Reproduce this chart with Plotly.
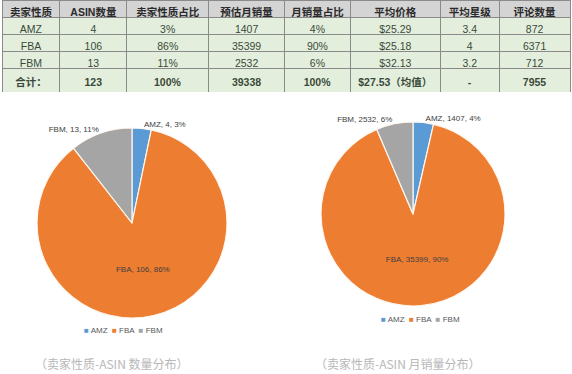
import plotly.graph_objects as go

# ---- data ----
categories = ["AMZ", "FBA", "FBM"]
asin_counts = [4, 106, 13]
asin_share = ["3%", "86%", "11%"]
monthly_sales = [1407, 35399, 2532]
sales_share = ["4%", "90%", "6%"]
avg_price = ["$25.29", "$25.18", "$32.13"]
avg_rating = ["3.4", "4", "3.2"]
reviews = [872, 6371, 712]

total_label = "合计："
total_asin = 123
total_asin_share = "100%"
total_sales = 39338
total_sales_share = "100%"
total_price = "$27.53（均值）"
total_rating = "-"
total_reviews = 7955

headers = ["卖家性质", "ASIN数量", "卖家性质占比", "预估月销量", "月销量占比", "平均价格", "平均星级", "评论数量"]
captions = ["（卖家性质-ASIN 数量分布）", "（卖家性质-ASIN 月销量分布）"]

colors = ["#5b9bd5", "#ed7d31", "#a5a5a5"]
CJK = "Noto Sans CJK SC"
W, H = 572, 374

def b(v):
    return "<b>%s</b>" % v

cols = [
    categories + [b(total_label)],
    [str(v) for v in asin_counts] + [b(total_asin)],
    asin_share + [b(total_asin_share)],
    [str(v) for v in monthly_sales] + [b(total_sales)],
    sales_share + [b(total_sales_share)],
    avg_price + [b(total_price)],
    avg_rating + [b(total_rating)],
    [str(v) for v in reviews] + [b(total_reviews)],
]

fig = go.Figure()

fig.add_trace(go.Table(
    domain=dict(x=[2 / W, 570 / W], y=[1 - 92 / H, 1]),
    columnwidth=[58, 67, 82, 76, 66, 90, 59, 71],
    header=dict(
        values=headers,
        fill_color="#d4d4d4",
        line_color="#8a8a8a",
        font=dict(family="Liberation Sans, " + CJK, size=10.5, color="#2a2a2a", weight="bold"),
        align="center",
        height=17,
    ),
    cells=dict(
        values=cols,
        fill_color="#e3efdc",
        line_color="#8a8a8a",
        font=dict(family="Liberation Sans, " + CJK, size=10.5, color="#3a4a3a"),
        align="center",
        height=17,
    ),
))

label_font = dict(family="Liberation Sans, Arial", size=8, color="#404040")

# left pie
fig.add_trace(go.Pie(
    labels=categories, values=asin_counts,
    domain=dict(x=[37 / W, 227 / W], y=[(H - 223 - 95) / H, (H - 223 + 95) / H]),
    sort=False, direction="clockwise", rotation=0,
    marker=dict(colors=colors, line=dict(color="#fff7ef", width=1.2)),
    texttemplate="%{label}, %{value:.0f}, %{percent:.0%}",
    textposition=["outside", "inside", "outside"],
    textfont=label_font, insidetextfont=label_font, outsidetextfont=label_font,
    insidetextorientation="horizontal",
    hoverinfo="label+value+percent",
    showlegend=False,
))

# right pie
fig.add_trace(go.Pie(
    labels=categories, values=monthly_sales,
    domain=dict(x=[321 / W, 505 / W], y=[(H - 214 - 92) / H, (H - 214 + 92) / H]),
    sort=False, direction="clockwise", rotation=0,
    marker=dict(colors=colors, line=dict(color="#fff7ef", width=1.2)),
    texttemplate="%{label}, %{value:.0f}, %{percent:.0%}",
    textposition=["outside", "inside", "outside"],
    textfont=label_font, insidetextfont=label_font, outsidetextfont=label_font,
    insidetextorientation="horizontal",
    hoverinfo="label+value+percent",
    showlegend=False,
))

# compact legends (Excel style) built from categories/colors
legend_text = "  ".join(
    "<span style='color:%s'>■</span> %s" % (c, n) for c, n in zip(colors, categories)
)
leg_font = dict(family="Liberation Sans, Arial", size=8, color="#595959")

fig.update_layout(
    width=W, height=H,
    margin=dict(l=0, r=0, t=0, b=0),
    paper_bgcolor="white", plot_bgcolor="white",
    annotations=[
        dict(text=legend_text, x=123 / W, y=1 - 330 / H, xref="paper", yref="paper",
             xanchor="center", yanchor="middle", showarrow=False, font=leg_font),
        dict(text=legend_text, x=420 / W, y=1 - 319 / H, xref="paper", yref="paper",
             xanchor="center", yanchor="middle", showarrow=False, font=leg_font),
        dict(text=captions[0], x=112 / W, y=1 - 363 / H, xref="paper", yref="paper",
             xanchor="center", yanchor="middle",
             showarrow=False, font=dict(family=CJK, size=12, color="#b8b8b8")),
        dict(text=captions[1], x=398 / W, y=1 - 363 / H, xref="paper", yref="paper",
             xanchor="center", yanchor="middle",
             showarrow=False, font=dict(family=CJK, size=12, color="#b8b8b8")),
    ],
)

fig.write_html("out.html")
